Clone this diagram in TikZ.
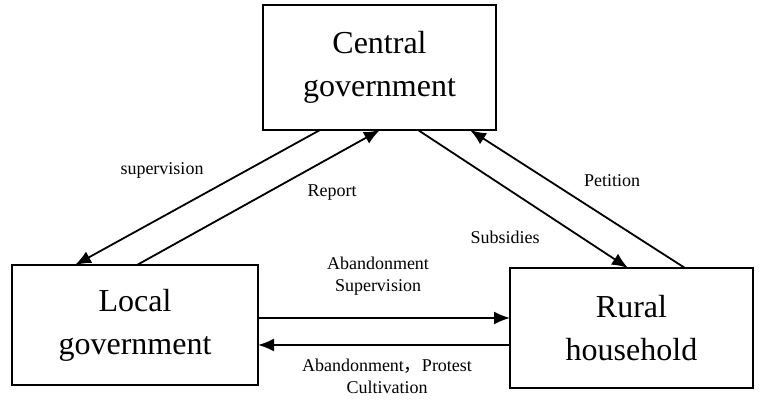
\documentclass[tikz,border=0pt]{standalone}
\usepackage{fontspec}
\setmainfont{Liberation Serif}
\newfontfamily\cjk{Noto Sans CJK SC}
\usetikzlibrary{arrows.meta}
\begin{document}
\begin{tikzpicture}[x=1pt,y=-1pt,
 box/.style={draw,line width=1.6pt,align=center,font=\fontsize{32}{43}\selectfont},
 arr/.style={line width=1.8pt,-{Latex[length=16pt,width=13pt]}},
 lab/.style={font=\fontsize{18}{22}\selectfont,align=center}]
\useasboundingbox (0,0) rectangle (768,411);
\node[box,minimum width=233pt,minimum height=125pt] (c) at (379.5,67.5) {Central\\government};
\node[box,minimum width=246pt,minimum height=120pt] (l) at (135,325) {Local\\government};
\node[box,minimum width=243pt,minimum height=120pt] (r) at (631.5,328) {Rural\\household};
\coordinate (c1) at (320,130); \coordinate (l1) at (75,265);
\coordinate (l2) at (137,265); \coordinate (c2) at (380,130);
\coordinate (c3) at (418,130); \coordinate (r1) at (628,268);
\coordinate (r2) at (685,268); \coordinate (c4) at (470,130);
\coordinate (lh1) at (258,318); \coordinate (rh1) at (510,318);
\coordinate (rh2) at (510,345); \coordinate (lh2) at (258,345);
\draw[arr] (c1) -- (l1);
\draw[arr] (l2) -- (c2);
\draw[arr] (c3) -- (r1);
\draw[arr] (r2) -- (c4);
\draw[arr] (lh1) -- (rh1);
\draw[arr] (rh2) -- (lh2);
\node[lab] (t1) at (162,170) {supervision};
\node[lab] (t2) at (332,193) {Report};
\node[lab] (t3) at (505,237) {Subsidies};
\node[lab] (t4) at (612,181) {Petition};
\node[lab] (t5) at (378,276) {Abandonment\\Supervision};
\node[lab] (t6) at (387,376) {Abandonment{\cjk ，}Protest\\Cultivation};
\end{tikzpicture}
\end{document}
